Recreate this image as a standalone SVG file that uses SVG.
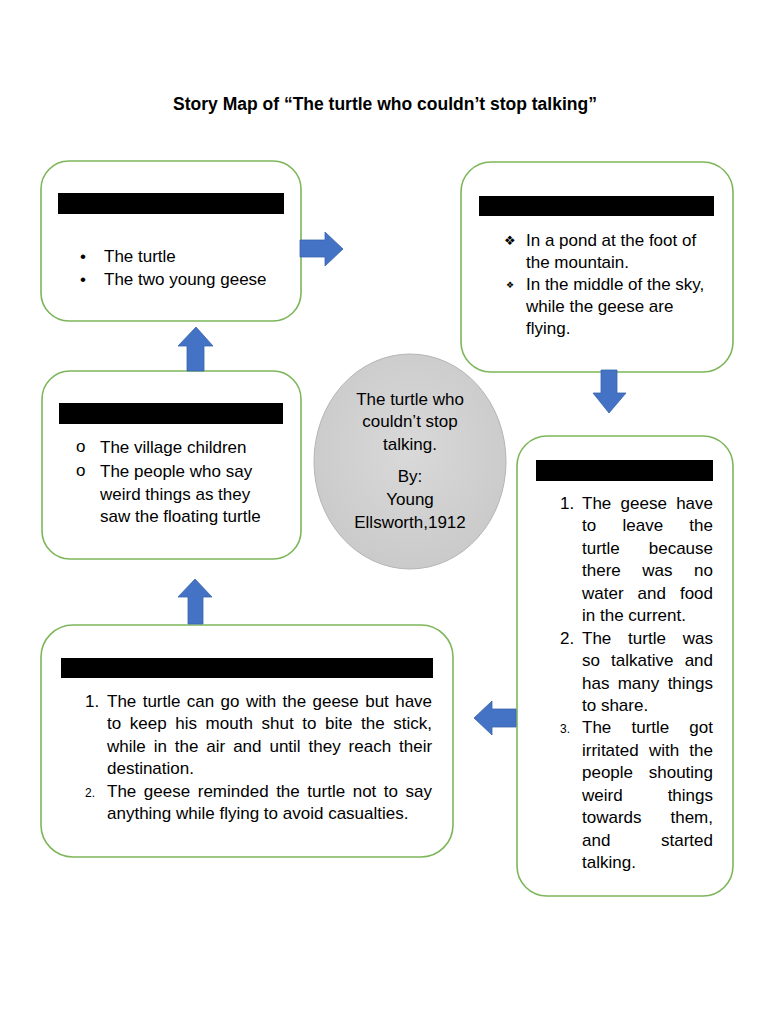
<svg xmlns="http://www.w3.org/2000/svg" width="768" height="1024" viewBox="0 0 768 1024">
<defs>
<style>
.box{fill:#ffffff;stroke:#7db65a;stroke-width:1.6}
.bar{fill:#000000}
.t{font-family:"Liberation Sans",Arial,sans-serif;font-size:17px;fill:#000000}
.title{font-family:"Liberation Sans",Arial,sans-serif;font-size:17.5px;font-weight:bold;fill:#000000}
.sm{font-family:"Liberation Sans",Arial,sans-serif;font-size:12px;fill:#000000}
.dj{font-family:"DejaVu Sans",sans-serif;fill:#000000}
.arrow{fill:#4472c4;stroke:#3a64ad;stroke-width:0.8}
.mid{text-anchor:middle}
.end{text-anchor:end}
</style>
<radialGradient id="eg" cx="50%" cy="45%" r="60%">
<stop offset="0" stop-color="#d9d9d9"/>
<stop offset="1" stop-color="#c9c9c9"/>
</radialGradient>
</defs>
<rect width="768" height="1024" fill="#ffffff"/>
<text class="title mid" x="385" y="110">Story Map of “The turtle who couldn’t stop talking”</text>

<g id="characters">
<rect class="box" x="41" y="161" width="260" height="160" rx="28"/>
<rect class="bar" x="58" y="193" width="226" height="21"/>
<text class="t" x="80" y="262">•</text>
<text class="t" x="104" y="262">The turtle</text>
<text class="t" x="80" y="285">•</text>
<text class="t" x="104" y="285">The two young geese</text>
</g>

<g id="setting">
<rect class="box" x="461" y="162" width="272" height="210" rx="30"/>
<rect class="bar" x="479" y="196" width="235" height="20"/>
<text class="dj" x="504" y="245" font-size="13">❖</text>
<text class="t" x="526" y="246">In a pond at the foot of</text>
<text class="t" x="526" y="268">the mountain.</text>
<text class="dj" x="506" y="288" font-size="9">❖</text>
<text class="t" x="526" y="290">In the middle of the sky,</text>
<text class="t" x="526" y="312">while the geese are</text>
<text class="t" x="526" y="334">flying.</text>
</g>

<g id="minor-characters">
<rect class="box" x="42" y="371" width="259" height="188" rx="28"/>
<rect class="bar" x="59" y="403" width="224" height="21"/>
<text class="t" x="76" y="452" font-size="14">o</text>
<text class="t" x="100" y="453">The village children</text>
<text class="t" x="76" y="476" font-size="14">o</text>
<text class="t" x="100" y="477">The people who say</text>
<text class="t" x="100" y="500">weird things as they</text>
<text class="t" x="100" y="522">saw the floating turtle</text>
</g>

<g id="title-oval">
<ellipse cx="410" cy="461.5" rx="96" ry="107.5" fill="url(#eg)" stroke="#b5b5b5" stroke-width="1"/>
<text class="t mid" x="410" y="405">The turtle who</text>
<text class="t mid" x="410" y="427">couldn’t stop</text>
<text class="t mid" x="410" y="450">talking.</text>
<text class="t mid" x="410" y="482">By:</text>
<text class="t mid" x="410" y="505">Young</text>
<text class="t mid" x="410" y="528">Ellsworth,1912</text>
</g>

<g id="problem">
<rect class="box" x="517" y="436" width="216" height="460" rx="30"/>
<rect class="bar" x="536" y="460" width="177" height="21"/>
<text class="t" x="560" y="509">1.</text>
<text class="t" x="582" y="509">The</text><text class="t mid" x="643.7" y="509">geese</text><text class="t end" x="713" y="509">have</text>
<text class="t" x="582" y="531.4">to</text><text class="t mid" x="642.8" y="531.4">leave</text><text class="t end" x="713" y="531.4">the</text>
<text class="t" x="582" y="553.9">turtle</text><text class="t end" x="713" y="553.9">because</text>
<text class="t" x="582" y="576.3">there</text><text class="t mid" x="657.4" y="576.3">was</text><text class="t end" x="713" y="576.3">no</text>
<text class="t" x="582" y="598.8">water</text><text class="t mid" x="651.8" y="598.8">and</text><text class="t end" x="713" y="598.8">food</text>
<text class="t" x="582" y="621.2">in the current.</text>
<text class="t" x="560" y="643.6">2.</text>
<text class="t" x="582" y="643.6">The</text><text class="t mid" x="647" y="643.6">turtle</text><text class="t end" x="713" y="643.6">was</text>
<text class="t" x="582" y="666.1">so</text><text class="t mid" x="642.3" y="666.1">talkative</text><text class="t end" x="713" y="666.1">and</text>
<text class="t" x="582" y="688.5">has</text><text class="t mid" x="638.5" y="688.5">many</text><text class="t end" x="713" y="688.5">things</text>
<text class="t" x="582" y="711">to share.</text>
<text class="sm" x="560" y="733.4">3.</text>
<text class="t" x="582" y="733.4">The</text><text class="t mid" x="650.4" y="733.4">turtle</text><text class="t end" x="713" y="733.4">got</text>
<text class="t" x="582" y="755.8">irritated</text><text class="t mid" x="664" y="755.8">with</text><text class="t end" x="713" y="755.8">the</text>
<text class="t" x="582" y="778.3">people</text><text class="t end" x="713" y="778.3">shouting</text>
<text class="t" x="582" y="800.7">weird</text><text class="t end" x="713" y="800.7">things</text>
<text class="t" x="582" y="823.2">towards</text><text class="t end" x="713" y="823.2">them,</text>
<text class="t" x="582" y="845.6">and</text><text class="t end" x="713" y="845.6">started</text>
<text class="t" x="582" y="868">talking.</text>
</g>

<g id="resolution">
<rect class="box" x="41" y="625" width="412" height="232" rx="32"/>
<rect class="bar" x="61" y="658" width="372" height="20"/>
<text class="t" x="85" y="707">1.</text>
<text class="t" x="107" y="707" word-spacing="1.65">The turtle can go with the geese but have</text>
<text class="t" x="107" y="729.4" word-spacing="3.89">to keep his mouth shut to bite the stick,</text>
<text class="t" x="107" y="751.8" word-spacing="3.19">while in the air and until they reach their</text>
<text class="t" x="107" y="774.2">destination.</text>
<text class="sm" x="85" y="796.6">2.</text>
<text class="t" x="107" y="796.6" word-spacing="2.83">The geese reminded the turtle not to say</text>
<text class="t" x="107" y="819">anything while flying to avoid casualties.</text>
</g>

<g id="connectors">
<polygon class="arrow" points="300,240 325,240 325,232 343,249 325,266 325,257 300,257"/>
<polygon class="arrow" points="601,370 617,370 617,393 626,393 609,413 593,393 601,393"/>
<polygon class="arrow" points="516,709 492,709 492,701 474,718 492,735 492,727 516,727"/>
<polygon class="arrow" points="188,624 188,597 178,597 195,579 212,597 203,597 203,624"/>
<polygon class="arrow" points="187,371 187,346 178,346 196,327 213,346 204,346 204,371"/>
</g>
</svg>
